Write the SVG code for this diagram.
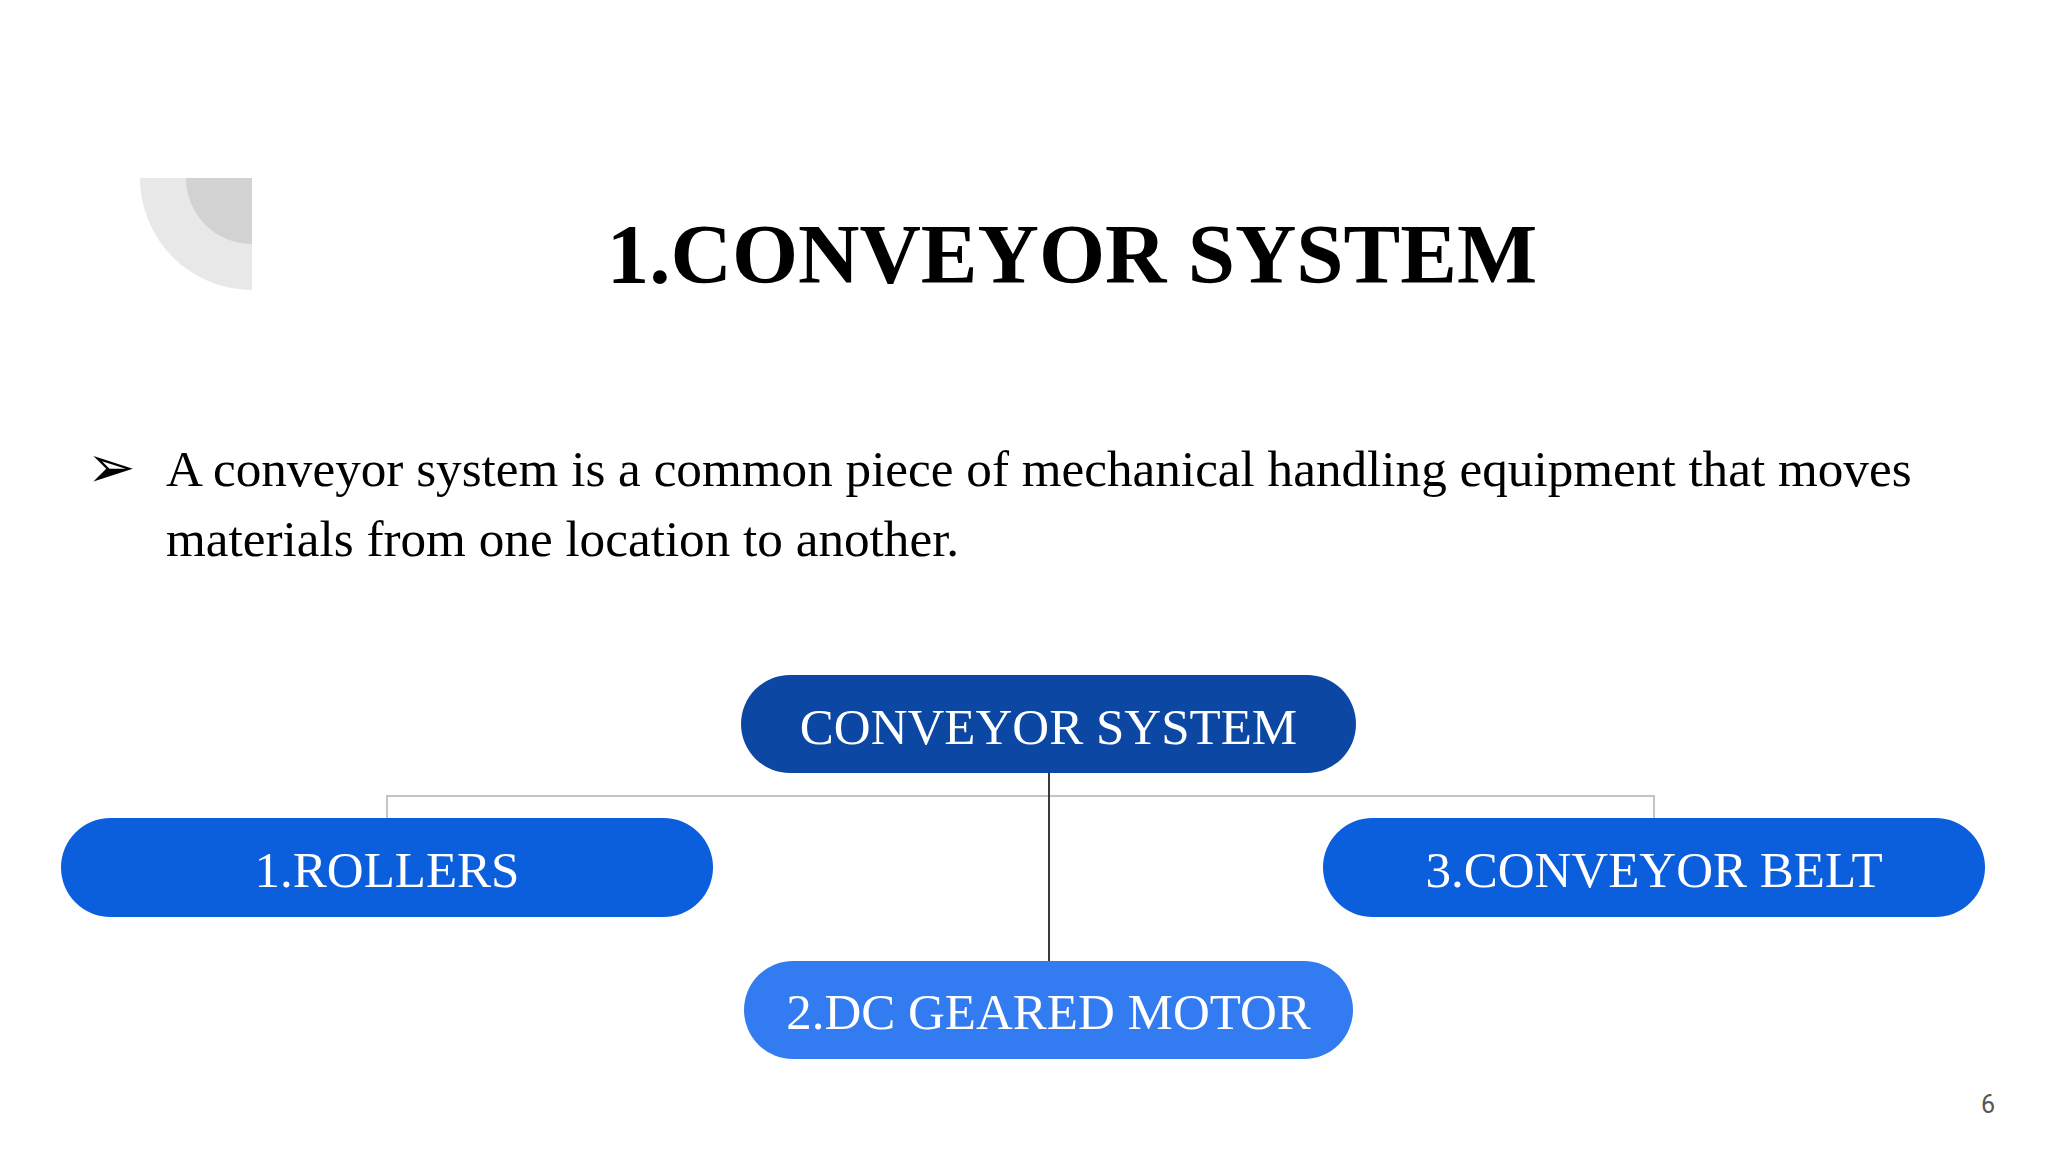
<svg xmlns="http://www.w3.org/2000/svg" width="2048" height="1152" viewBox="0 0 2048 1152">
  <style>
    .serif { font-family: "Liberation Serif", "Times New Roman", serif; }
    .node-text { font-family: "Liberation Serif", "Times New Roman", serif; font-size: 51px; fill: #ffffff; text-anchor: middle; }
    .conn-gray { stroke: #c4c4c4; stroke-width: 2; fill: none; }
    .conn-dark { stroke: #3a3a3a; stroke-width: 2; fill: none; }
  </style>
  <rect width="2048" height="1152" fill="#ffffff"/>
  <rect x="62" y="780" width="1938" height="372" fill="#fefefe"/>
  <g id="decoration">
    <path d="M252 178 L140 178 A112 112 0 0 0 252 290 Z" fill="#e8e8e8"/>
    <path d="M252 178 L186 178 A66 66 0 0 0 252 244 Z" fill="#d2d2d2"/>
  </g>
  <g id="title">
    <text x="1072" y="283" class="serif" font-size="85" font-weight="bold" text-anchor="middle" fill="#000000">1.CONVEYOR SYSTEM</text>
  </g>
  <g id="bullet">
    <text x="87" y="487" font-family="DejaVu Sans, sans-serif" font-size="58" fill="#000000">➢</text>
    <text x="166" y="486" class="serif" font-size="51.2" fill="#000000">A conveyor system is a common piece of mechanical handling equipment that moves</text>
    <text x="166" y="556" class="serif" font-size="51.2" fill="#000000">materials from one location to another.</text>
  </g>
  <g id="connectors">
    <path class="conn-gray" d="M387 818 V796 H1654 V818"/>
    <path class="conn-dark" d="M1049 773 V961"/>
  </g>
  <g id="node-root">
    <rect x="741" y="675" width="615" height="98" rx="49" fill="#0b47a3"/>
    <text x="1048.5" y="744" class="node-text">CONVEYOR SYSTEM</text>
  </g>
  <g id="node-rollers">
    <rect x="61" y="818" width="652" height="99" rx="49.5" fill="#0b5edc"/>
    <text x="387" y="887" class="node-text">1.ROLLERS</text>
  </g>
  <g id="node-belt">
    <rect x="1323" y="818" width="662" height="99" rx="49.5" fill="#0b5edc"/>
    <text x="1654" y="887" class="node-text">3.CONVEYOR BELT</text>
  </g>
  <g id="node-motor">
    <rect x="744" y="961" width="609" height="98" rx="49" fill="#337bf0"/>
    <text x="1048.5" y="1029" class="node-text">2.DC GEARED MOTOR</text>
  </g>
  <g id="page-number">
    <text x="1988" y="1113" font-family="Roboto, 'Liberation Sans', sans-serif" font-size="25" fill="#555555" text-anchor="middle">6</text>
  </g>
</svg>
